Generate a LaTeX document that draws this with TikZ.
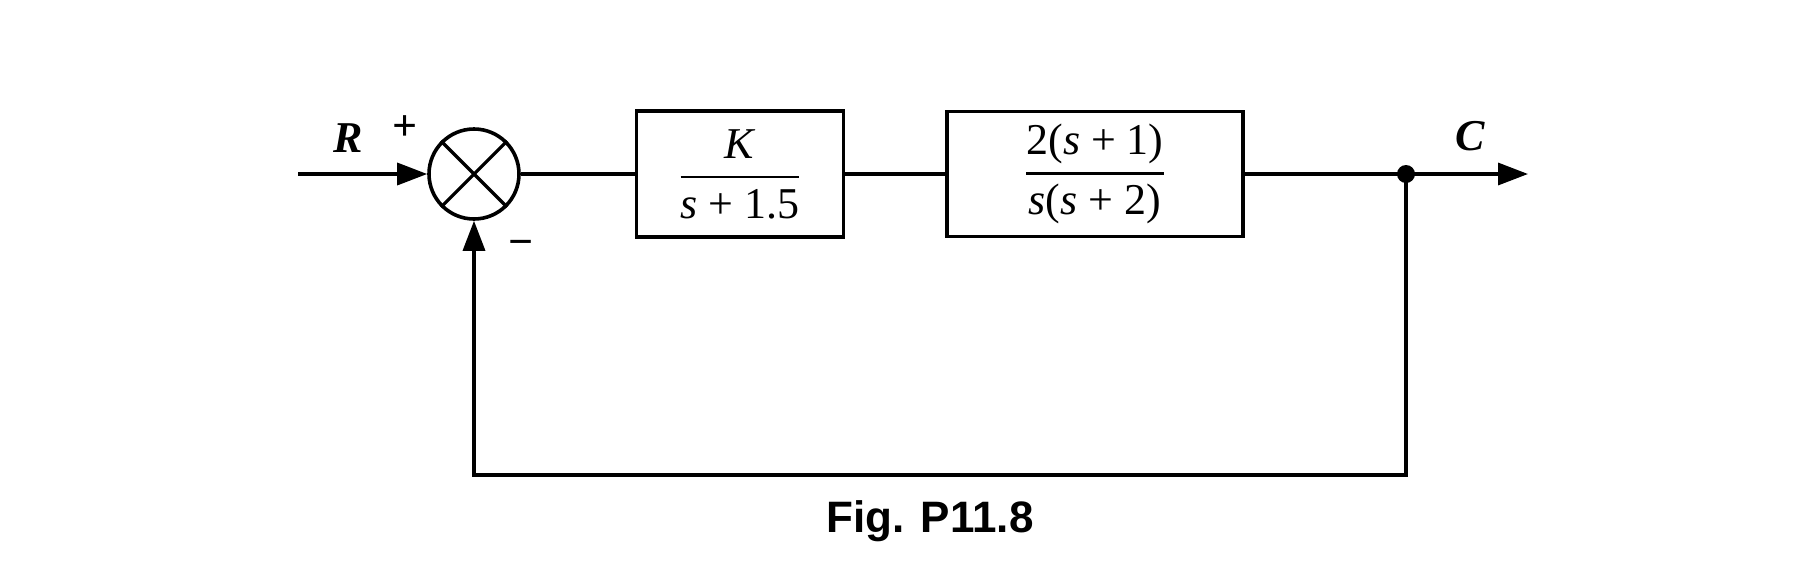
\RequirePackage{fix-cm}
\documentclass[tikz,border=0pt]{standalone}
\usepackage{amsmath}
\usepackage{fontspec}
\setmainfont{Liberation Serif}
\newfontfamily\capfont{Liberation Sans}
\usetikzlibrary{arrows.meta}
\newcommand\vv[1]{\textit{#1}}
\newcommand\tfr[2]{$\genfrac{}{}{1.3pt}{0}{\text{#1}}{\text{#2}}$}
\begin{document}
\begin{tikzpicture}[x=0.5pt,y=-0.5pt,
  line/.style={line width=1.7pt},
  block/.style={draw,line width=1.9pt,inner sep=0pt},
  arr/.style={-{Triangle[length=15pt,width=11pt]}},
  lbl/.style={font=\fontsize{22}{26}\selectfont,inner sep=0pt}]
\useasboundingbox (0,0) rectangle (1818,574);
% summing junction
\node[circle,draw,line width=1.8pt,minimum size=45pt,inner sep=0pt] (sum) at (474,174) {};
\draw[line width=1.6pt] (sum.north east) -- (sum.south west)
                        (sum.north west) -- (sum.south east);
% blocks
\node[block,minimum width=103.5pt,minimum height=63pt,lbl] (g1) at (740,174)
  {\tfr{\vv{K}}{\vv{s} + 1.5}};
\node[block,minimum width=148pt,minimum height=62.5pt,lbl] (g2) at (1095,174)
  {\tfr{2(\vv{s} + 1)}{\vv{s}(\vv{s} + 2)}};
% take-off point
\node[circle,fill,inner sep=0pt,minimum size=9pt] (dot) at (1406,174) {};
\coordinate (in) at (298,174);
\coordinate (out) at (1528,174);
\coordinate (bot) at (0,475);
% connectors
\draw[line,arr] (in) -- (sum.west);
\draw[line] (sum.east) -- (g1.west);
\draw[line] (g1.east) -- (g2.west);
\draw[line] (g2.east) -- (dot.center);
\draw[line,arr] (dot.center) -- (out);
\draw[line,arr] (dot.center) -- (dot |- bot) -| (sum.south);
% labels
\node[lbl] (Rlbl) at (348,138) {\textbf{\textit{R}}};
\node[lbl] (plus) at (405,128) {\textbf{+}};
\node[lbl] (minus) at (521,248) {\textbf{\char"2212}};
\node[lbl] (Clbl) at (1470,136) {\textbf{\textit{C}}};
\node[font=\capfont\bfseries\fontsize{22}{26}\selectfont,anchor=base,inner sep=0pt] (cap) at (930,532) {Fig. P11.8};
\end{tikzpicture}
\end{document}
